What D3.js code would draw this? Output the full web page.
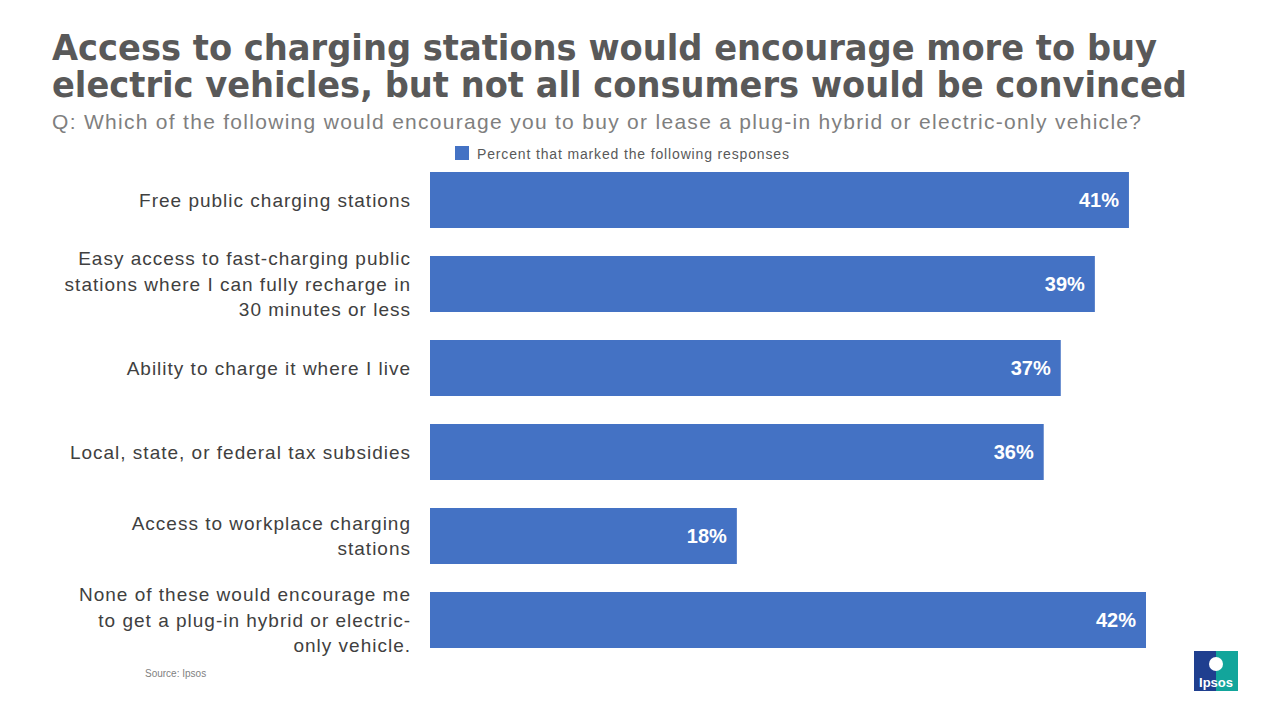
<!DOCTYPE html>
<html><head><meta charset="utf-8">
<script src="https://cdn.jsdelivr.net/npm/d3@7/dist/d3.min.js"></script>
<style>body{margin:0;background:#fff}svg{display:block}text{font-family:Arial,"Liberation Sans",sans-serif}</style>
</head><body>
<script>
const categories = [
  ["Free public charging stations"],
  ["Easy access to fast-charging public","stations where I can fully recharge in","30 minutes or less"],
  ["Ability to charge it where I live"],
  ["Local, state, or federal tax subsidies"],
  ["Access to workplace charging","stations"],
  ["None of these would encourage me","to get a plug-in hybrid or electric-","only vehicle."]
];
const values = [41, 39, 37, 36, 18, 42];
const seriesName = "Percent that marked the following responses";

const svg = d3.select("body").append("svg").attr("width",1280).attr("height",720);
svg.append("text").attr("x",52).attr("y",60).attr("font-size",35).attr("font-weight","bold").attr("fill","#595959")
  .style("font-family","'DejaVu Sans',sans-serif").attr("textLength",1105).attr("lengthAdjust","spacingAndGlyphs")
  .text("Access to charging stations would encourage more to buy");
svg.append("text").attr("x",52).attr("y",97).attr("font-size",35).attr("font-weight","bold").attr("fill","#595959")
  .style("font-family","'DejaVu Sans',sans-serif").attr("textLength",1135).attr("lengthAdjust","spacingAndGlyphs")
  .text("electric vehicles, but not all consumers would be convinced");
svg.append("text").attr("x",52).attr("y",129).attr("font-size",21).attr("fill","#7f7f7f")
  .attr("textLength",1089).attr("lengthAdjust","spacing")
  .text("Q: Which of the following would encourage you to buy or lease a plug-in hybrid or electric-only vehicle?");
svg.append("rect").attr("x",455).attr("y",146).attr("width",14).attr("height",14).attr("fill","#4472C4");
svg.append("text").attr("x",477).attr("y",158.5).attr("font-size",14).attr("fill","#595959")
  .attr("letter-spacing",0.85).text(seriesName);

const idx = d3.range(values.length);
const y = d3.scaleBand().domain(idx).range([158,662]).paddingInner(1/3).paddingOuter(1/6);
const x = d3.scaleLinear().domain([0,42]).range([430,1146]);

svg.selectAll("rect.bar").data(idx).join("rect").attr("class","bar")
  .attr("x",x(0)).attr("y",i=>y(i)).attr("width",i=>x(values[i])-x(0)).attr("height",y.bandwidth()).attr("fill","#4472C4");
svg.selectAll("text.val").data(idx).join("text").attr("class","val")
  .attr("x",i=>x(values[i])-10).attr("y",i=>y(i)+y.bandwidth()/2+7).attr("text-anchor","end")
  .attr("font-size",20).attr("font-weight","bold").attr("fill","#fff").text(i=>values[i]+"%");
idx.forEach(i=>{
  const lines = categories[i], lh = 25.5;
  const cy = y(i)+y.bandwidth()/2;
  lines.forEach((l,j)=>{
    svg.append("text").attr("x",411).attr("y",cy+(j-(lines.length-1)/2)*lh+6.5)
      .attr("text-anchor","end").attr("font-size",19).attr("fill","#404040").attr("letter-spacing",1).text(l);
  });
});
svg.append("text").attr("x",145).attr("y",677).attr("font-size",10).attr("fill","#7f7f7f").text("Source: Ipsos");
const g = svg.append("g");
g.append("rect").attr("x",1194).attr("y",651).attr("width",22).attr("height",40).attr("fill","#1f3f8f");
g.append("rect").attr("x",1216).attr("y",651).attr("width",22).attr("height",40).attr("fill","#12a59b");
g.append("circle").attr("cx",1216).attr("cy",664).attr("r",7).attr("fill","#fff");
g.append("text").attr("x",1216).attr("y",687).attr("text-anchor","middle").attr("font-size",13).attr("font-weight","bold").attr("fill","#fff").text("Ipsos");
</script>
</body></html>
